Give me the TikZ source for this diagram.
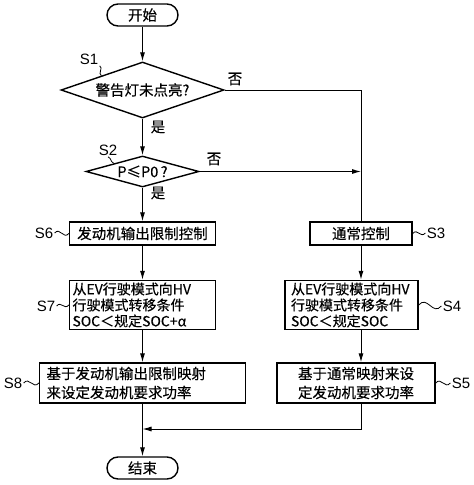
\documentclass[tikz,border=0pt]{standalone}
\usepackage{fontspec}
\setmainfont{Noto Sans CJK SC}[FakeBold=0.3]
\newfontfamily\tagfont{Liberation Sans}
\usetikzlibrary{shapes.geometric,arrows.meta}

\begin{document}
\begin{tikzpicture}
    [x=1pt,y=-1pt,line width=1pt,>={Latex[length=9pt,width=5pt]},
     every node/.style={inner sep=0pt,font=\fontsize{14.5}{16}\selectfont},
     term/.style={draw,line width=1.4pt,rectangle,rounded corners=11pt,minimum width=71pt,minimum height=22pt},
     test/.style={draw,line width=1.4pt,diamond},
     proc/.style={draw,line width=1.4pt,rectangle,minimum height=23pt},
     tag/.style={inner sep=1pt,font=\tagfont\fontsize{15}{15}\selectfont},
     tilde/.style={line width=.8pt}]
  \useasboundingbox (0,0) rectangle (474,485);
  \node[term] (start) at (142.5,15) {开始};
  \node[test,aspect=2.9,minimum width=163pt,minimum height=56pt] (s1) at (142.5,90) {警告灯未点亮?};
  \node[test,aspect=3.6,minimum width=113pt,minimum height=31pt] (s2) at (142.5,171.5) {P≤P0\,?};
  \node[proc,minimum width=146pt] (s6) at (142.5,233.5) {发动机输出限制控制};
  \node[proc,minimum width=102pt] (s3) at (361,233.5) {通常控制};
  \node[proc,align=left,text width=140pt,inner xsep=3pt,minimum height=49pt,font=\fontsize{14}{16}\selectfont] (s7) at (142.5,305) {从EV行驶模式向HV\\行驶模式转移条件\\SOC＜规定SOC+α};
  \node[proc,align=left,text width=121pt,inner xsep=6pt,minimum height=49pt,font=\fontsize{14}{16}\selectfont] (s4) at (351.5,305) {从EV行驶模式向HV\\行驶模式转移条件\\SOC＜规定SOC};
  \node[proc,align=left,text width=192pt,inner xsep=7pt,minimum height=40pt,font=\fontsize{14.5}{19}\selectfont] (s8) at (142.5,383) {基于发动机输出限制映射\\来设定发动机要求功率};
  \node[proc,align=center,minimum width=158pt,minimum height=40pt,font=\fontsize{14.5}{19}\selectfont] (s5) at (356,383) {基于通常映射来设\\定发动机要求功率};
  \node[term] (stop) at (142.5,468) {结束};
  \coordinate (merge) at (142.5,429);

  \node (no1) at (235,79) {否};
  \node (yes1) at (158,127) {是};
  \node (no2) at (214,159) {否};
  \node (yes2) at (158,193) {是};

  \node[tag] (t1) at (89,59) {S1};
  \node[tag] (t2) at (108,150) {S2};
  \node[tag] (t6) at (44,233) {S6};
  \node[tag] (t3) at (436,233) {S3};
  \node[tag] (t7) at (46,306) {S7};
  \node[tag] (t4) at (452,306) {S4};
  \node[tag] (t8) at (13,383) {S8};
  \node[tag] (t5) at (461,383) {S5};

  \foreach \from/\to in {start/s1, s1/s2, s2/s6, s6/s7, s7/s8, s8/stop}
    \draw[->] (\from) -- (\to);
  \draw (s1.east) -| (s3.north);
  \draw[->] (s2.east) -- (s2.east -| s3.north);
  \draw[->] (s3) -- (s3 |- s4.north);
  \draw[->] (s4.south -| s3) -- (s5.north -| s3);
  \draw[->] (s5.south -| s3) |- (merge);

  \draw[tilde] (t1.south east) .. controls +(4,2) and +(-4,-2) .. (s1.north west);
  \draw[tilde] (t2.south) .. controls +(4,2) and +(-4,-2) .. (s2.north west);
  \foreach \a/\b in {t6/s6, t7/s7, t8/s8}
    \draw[tilde] (\a.east) to[out=50,in=230,looseness=1.5] (\b.west);
  \foreach \a/\b in {s3/t3, s4/t4, s5/t5}
    \draw[tilde] (\a.east) to[out=50,in=230,looseness=1.5] (\b.west);
\end{tikzpicture}
\end{document}
